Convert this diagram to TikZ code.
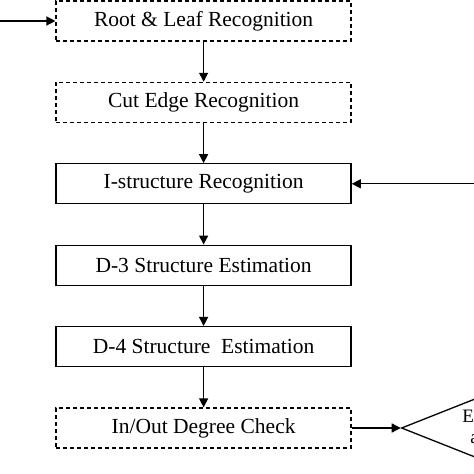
\documentclass[tikz,border=0pt]{standalone}
\usepackage{fontspec}
\setmainfont{Liberation Serif}
\usetikzlibrary{positioning, shapes.geometric, arrows.meta}

\tikzset{
  stage/.style={draw, line width=1.3pt, minimum width=295pt, minimum height=40pt,
    inner sep=0pt, font=\fontsize{21.5}{24}\selectfont},
  optstage/.style={stage, dash pattern=on 4pt off 3pt},
  flow/.style={-{Triangle[length=9pt,width=9pt]}, line width=1.3pt}
}

\begin{document}
\begin{tikzpicture}[x=1pt, y=-1pt, node distance=40.1pt]
  \useasboundingbox (0,0) rectangle (474,474);
  \clip (0,0) rectangle (474,474);
  % main chain
  \node[optstage] (root) at (203.6,21) {Root \& Leaf Recognition};
  \node[optstage, below=of root] (cut) {Cut Edge Recognition};
  \node[stage, below=of cut] (istruct) {I-structure Recognition};
  \node[stage, below=of istruct] (dthree) {D-3 Structure Estimation};
  \node[stage, below=of dthree] (dfour) {D-4 Structure~ Estimation};
  \node[optstage, below=of dfour] (degree) {In/Out Degree Check};
  % decision on the right
  \node[diamond, draw, line width=1.3pt, minimum width=220pt, minimum height=87.4pt,
    inner sep=0pt, anchor=west, right=49pt of degree] (exist) {};
  \node[anchor=base west, font=\fontsize{19}{22}\selectfont, inner sep=0pt] (existtop) at ([xshift=61.5pt,yshift=6pt]exist.west) {E};
  \node[anchor=base west, font=\fontsize{19}{22}\selectfont, inner sep=0pt] (existbot) at ([xshift=69.5pt,yshift=-15.5pt]exist.west) {a};
  % loose ends
  \coordinate (input) at (0,0);
  \coordinate (loop) at (474,0);
  % connectors
  \draw[flow] (input |- root.west) -- (root.west);
  \draw[flow] (root) -- (cut);
  \draw[flow] (cut) -- (istruct);
  \draw[flow] (istruct) -- (dthree);
  \draw[flow] (dthree) -- (dfour);
  \draw[flow] (dfour) -- (degree);
  \draw[flow] (degree) -- (exist);
  \draw[flow] (loop |- istruct.east) -- (istruct.east);
\end{tikzpicture}
\end{document}
